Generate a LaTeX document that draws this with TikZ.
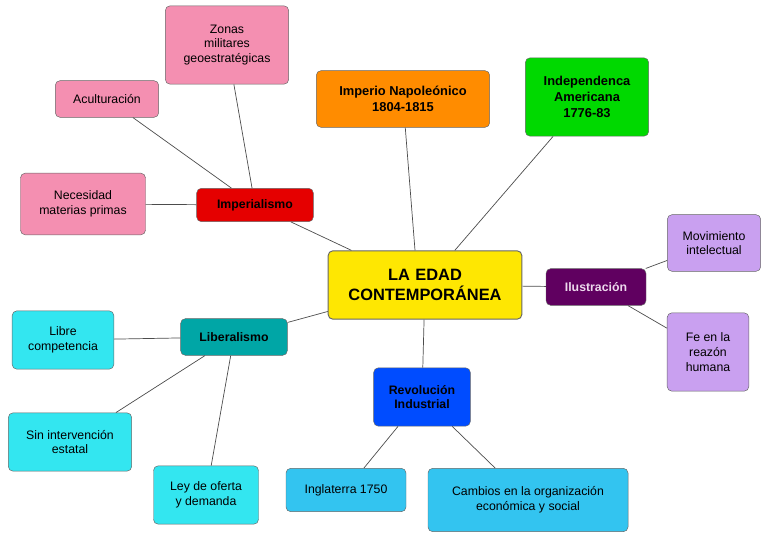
\documentclass[tikz,border=0pt]{standalone}
\usepackage{fontspec}
\setmainfont{Liberation Sans}
\begin{document}
\begin{tikzpicture}[x=0.03cm,y=-0.03cm,
 box/.style={draw=black!60,rounded corners=4pt,align=center,font=\fontsize{10.5}{12.5}\selectfont,inner sep=3pt},
 link/.style={draw=black!70,line width=0.6pt}]
\useasboundingbox (0,0) rectangle (768,543);
\definecolor{pinkb}{HTML}{F48FB1}
\definecolor{lpur}{HTML}{C9A0F0}
\definecolor{cyanb}{HTML}{33E6F0}
\definecolor{lblue}{HTML}{33C4F0}
\node[box,fill=yellow!90!orange,text width=5.6cm,minimum height=2.05cm,font=\fontsize{14}{17}\selectfont\bfseries,line width=0.8pt] (c) at (425,285) {LA EDAD\\CONTEMPORÁNEA};
\node[box,fill=red!90!black,minimum width=3.5cm,minimum height=1cm,font=\fontsize{10.5}{12.5}\selectfont\bfseries] (imp) at (255,205) {Imperialismo};
\node[box,fill=pinkb,minimum width=3.7cm,minimum height=2.35cm] (zon) at (227,45) {Zonas\\militares\\geoestratégicas};
\node[box,fill=pinkb,minimum width=3.1cm,minimum height=1.1cm] (acu) at (107,99) {Aculturación};
\node[box,fill=pinkb,minimum width=3.75cm,minimum height=1.85cm] (nec) at (83,204) {Necesidad\\materias primas};
\node[box,fill=orange!90!yellow,minimum width=5.2cm,minimum height=1.7cm,font=\fontsize{11}{13.5}\selectfont\bfseries] (nap) at (403,99) {Imperio Napoleónico\\1804-1815};
\node[box,fill=green!85!black,minimum width=3.7cm,minimum height=2.35cm,font=\fontsize{11}{13.5}\selectfont\bfseries] (ind) at (587,97) {Independenca\\Americana\\1776-83};
\node[box,fill=violet!75!black,text=white!85!violet,minimum width=3cm,minimum height=1.1cm,font=\fontsize{10.5}{12.5}\selectfont\bfseries] (ilu) at (596,287) {Ilustración};
\node[box,fill=lpur,minimum width=2.8cm,minimum height=1.7cm] (mov) at (714,243) {Movimiento\\intelectual};
\node[box,fill=lpur,minimum width=2.45cm,minimum height=2.35cm] (fe) at (708,352) {Fe en la\\reazón\\humana};
\node[box,fill=blue!70!cyan,minimum width=2.9cm,minimum height=1.75cm,font=\fontsize{10.5}{12.5}\selectfont\bfseries] (rev) at (422,397) {Revolución\\Industrial};
\node[box,fill=lblue,minimum width=3.6cm,minimum height=1.3cm] (ing) at (346,490) {Inglaterra 1750};
\node[box,fill=lblue,minimum width=6cm,minimum height=1.9cm] (cam) at (528,500) {Cambios en la organización\\económica y social};
\node[box,fill=teal!70!cyan,minimum width=3.2cm,minimum height=1.1cm,font=\fontsize{10.5}{12.5}\selectfont\bfseries] (lib) at (234,337) {Liberalismo};
\node[box,fill=cyanb,minimum width=3.05cm,minimum height=1.75cm] (lc) at (63,340) {Libre\\competencia};
\node[box,fill=cyanb,minimum width=3.7cm,minimum height=1.75cm] (sin) at (70,442) {Sin intervención\\estatal};
\node[box,fill=cyanb,minimum width=3.15cm,minimum height=1.75cm] (ley) at (206,495) {Ley de oferta\\y demanda};
\draw[link] (c) -- (imp);
\draw[link] (imp) -- (zon);
\draw[link] (imp) -- (acu);
\draw[link] (imp) -- (nec);
\draw[link] (c.north) ++(-10,0) -- (nap);
\draw[link] (c) -- (ind);
\draw[link] (c) -- (ilu);
\draw[link] (ilu) -- (mov);
\draw[link] (ilu) -- (fe);
\draw[link] (c) -- (rev);
\draw[link] (rev) -- (ing);
\draw[link] (rev) -- (cam);
\draw[link] (c) -- (lib);
\draw[link] (lib) -- (lc);
\draw[link] (lib) -- (sin);
\draw[link] (lib) -- (ley);
\end{tikzpicture}
\end{document}
